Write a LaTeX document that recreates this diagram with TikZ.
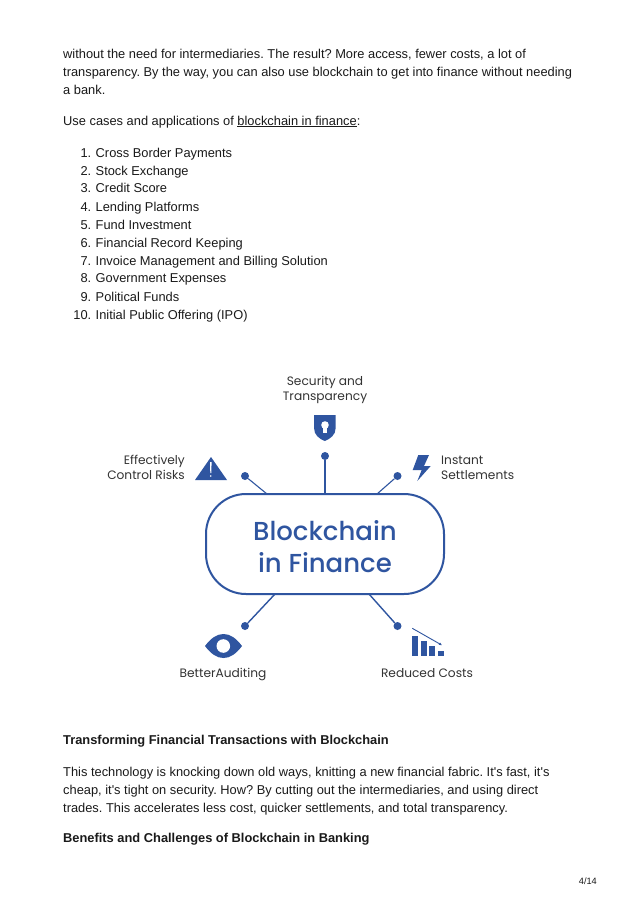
\documentclass[tikz,border=0pt]{standalone}
\usepackage{fontspec}
\usetikzlibrary{arrows.meta}
\setmainfont{Liberation Sans}[Ligatures=TeXOff]
\newfontfamily\diafont{Poppins}
\newfontfamily\diahead{Poppins Medium}
\definecolor{bluefin}{HTML}{2F55A0}
\definecolor{labelgray}{HTML}{333333}
\definecolor{bodytext}{HTML}{1A1A1A}
\frenchspacing
\tikzset{
  bodyline/.style={anchor=base west,inner sep=0pt,font=\frenchspacing\fontsize{12.85}{16}\selectfont,text=bodytext},
  headline/.style={bodyline,font=\frenchspacing\fontsize{12.85}{16}\selectfont\bfseries},
  numline/.style={anchor=base east,inner sep=0pt,font=\fontsize{12.85}{16}\selectfont,text=bodytext},
  dotnode/.style={circle,fill=bluefin,inner sep=0pt,minimum size=8pt},
  link/.style={draw=bluefin,line width=1.1pt},
  difflabel/.style={inner sep=0pt,font=\diafont\fontsize{12.2}{14.8}\selectfont,text=labelgray},
  mainbox/.style={draw=bluefin,line width=2pt,rounded corners=40pt,minimum width=238pt,minimum height=100pt,inner sep=0pt},
  maintext/.style={inner sep=0pt,align=center,text=bluefin,font=\diahead\fontsize{26}{32}\selectfont},
}
\begin{document}
\begin{tikzpicture}[x=1pt,y=-1pt]
\useasboundingbox (0,0) rectangle (638,903);
\fill[white] (0,0) rectangle (638,903);
% body text
\node[bodyline] (p1) at (63,58) {without the need for intermediaries. The result? More access, fewer costs, a lot of};
\node[bodyline] (p2) at (63,76) {transparency. By the way, you can also use blockchain to get into finance without needing};
\node[bodyline] (p3) at (63,94) {a bank.};
\node[bodyline] (p4) at (63,125) {Use cases and applications of \underline{blockchain in finance}:};
\foreach \n/\t/\y in {1/Cross Border Payments/157,2/Stock Exchange/175,3/Credit Score/192,4/Lending Platforms/211,5/Fund Investment/229,6/Financial Record Keeping/247,7/Invoice Management and Billing Solution/265,8/Government Expenses/282,9/Political Funds/301,10/Initial Public Offering (IPO)/319}{
  \node[numline] (n\n) at (91.5,\y) {\n.};
  \node[bodyline] (l\n) at (95.5,\y) {\t};
}
\node[headline] (h1) at (63,744) {Transforming Financial Transactions with Blockchain};
\node[bodyline] (q1) at (63,776) {This technology is knocking down old ways, knitting a new financial fabric. It's fast, it's};
\node[bodyline] (q2) at (63,794) {cheap, it's tight on security. How? By cutting out the intermediaries, and using direct};
\node[bodyline] (q3) at (63,812) {trades. This accelerates less cost, quicker settlements, and total transparency.};
\node[headline] (h2) at (63,842) {Benefits and Challenges of Blockchain in Banking};
\node[anchor=base east,inner sep=0pt,font=\fontsize{9.2}{10}\selectfont,text=bodytext] (pg) at (597,884) {4/14};
% diagram
\node[mainbox] (main) at (325,544) {};
\node[maintext] (mt1) at (325,531) {Blockchain};
\node[maintext] (mt2) at (325,562.5) {in Finance};
\node[dotnode] (d1) at (245,476) {};
\node[dotnode] (d2) at (325,456) {};
\node[dotnode] (d3) at (397.5,476) {};
\node[dotnode] (d4) at (245,626) {};
\node[dotnode] (d5) at (397.5,626) {};
\coordinate (e1) at (267,494);
\coordinate (e3) at (377,494);
\coordinate (e4) at (275,594);
\coordinate (e5) at (369,594);
\draw[link] (d1) -- (e1);
\draw[link,line width=1.5pt] (d2) -- (main.north);
\draw[link] (d3) -- (e3);
\draw[link,line width=1.4pt] (d4) -- (e4);
\draw[link,line width=1.4pt] (d5) -- (e5);
% labels
\node[difflabel,align=center] (t2) at (325,390) {Security and\\Transparency};
\node[difflabel,align=right,anchor=east] (t1) at (185,467.5) {Effectively\\Control Risks};
\node[difflabel,align=left,anchor=west] (t3) at (441,467.5) {Instant\\Settlements};
\node[difflabel] (t4) at (223,674) {BetterAuditing};
\node[difflabel] (t5) at (427,673.5) {Reduced Costs};
% warning icon
\fill[bluefin,line join=round] (211,457) -- (227,480) -- (195,480) -- cycle;
\fill[white] (210,462) -- (211.6,462) -- (211.3,473) -- (210.3,473) -- cycle;
\fill[white] (210.8,476) circle (0.9);
% shield icon
\fill[bluefin] (314,415) -- (335.7,415) -- (335.7,428) .. controls (335.7,435) and (330,439) .. (324.8,441) .. controls (319.5,439) and (314,435) .. (314,428) -- cycle;
\fill[white] (325,425) circle (3.8);
\fill[white] (323.4,426) rectangle (326.6,433);
% bolt icon
\fill[bluefin] (418.3,455) -- (429,455) -- (424,466) -- (430.7,466) -- (417.3,481) -- (421.7,470) -- (412.7,470) -- cycle;
% eye icon
\fill[bluefin] (205,646) .. controls (211,638) and (217,634) .. (223.5,634) .. controls (230,634) and (236,638) .. (242,646) .. controls (236,654) and (230,658) .. (223.5,658) .. controls (217,658) and (211,654) .. (205,646) -- cycle;
\fill[white] (223.3,646) circle (6.8);
% cost icon
\fill[bluefin] (411.7,636) rectangle (418,656);
\fill[bluefin] (420.7,641) rectangle (426.7,656);
\fill[bluefin] (429.3,645.7) rectangle (435,656);
\fill[bluefin] (437.7,650.7) rectangle (444,656);
\draw[bluefin,line width=0.9pt,-{Latex[length=3pt,width=3pt]}] (412.3,628.3) -- (442,645.2);
\end{tikzpicture}
\end{document}
